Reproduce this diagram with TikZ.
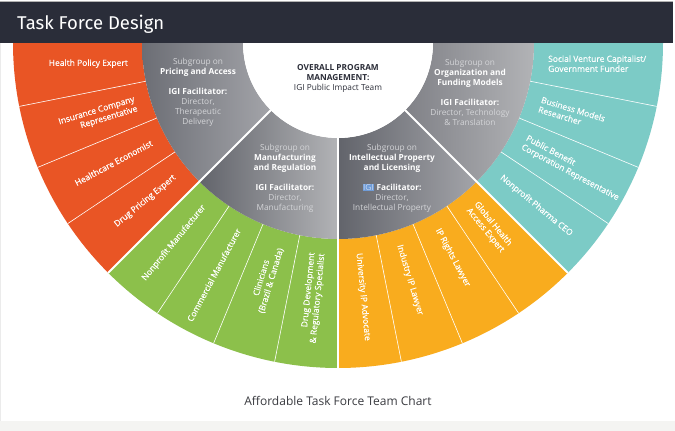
\documentclass[tikz,border=0pt]{standalone}
\usepackage{fontspec}
\setmainfont{Open Sans}
\newfontfamily\headfont{Fira Sans}
\newfontfamily\lblfont[FakeBold=0.35]{Open Sans}
\usetikzlibrary{calc}
\definecolor{cOrange}{HTML}{E95525}
\definecolor{cGreen}{HTML}{8CC04B}
\definecolor{cYellow}{HTML}{F9AC1E}
\definecolor{cTeal}{HTML}{7CCBC6}
\definecolor{cHead}{HTML}{2A2D39}
\definecolor{cDark}{HTML}{2B2D38}
\definecolor{cCap}{HTML}{3A3B40}
\definecolor{sgText}{HTML}{D4D5D8}
\definecolor{hlBlue}{HTML}{6F9CD8}
\definecolor{hlText}{HTML}{C9D9F0}
\definecolor{gA}{HTML}{6C6E75}
\definecolor{gB}{HTML}{A3A4A9}
\definecolor{gC}{HTML}{62646B}
\definecolor{gD}{HTML}{B2B3B6}
\definecolor{gE}{HTML}{808187}
\definecolor{cBand}{HTML}{F4F4F2}
\tikzset{
  annsec/.style n args={4}{insert path={($(C)+(#1:#4)$) arc[start angle=#1,end angle=#2,radius=#4] -- ($(C)+(#2:#3)$) arc[start angle=#2,end angle=#1,radius=#3] -- cycle}},
  lblL/.style={font=\lblfont\fontsize{8.5}{10}\selectfont, text=white, inner sep=0pt, align=right, anchor=east},
  lblR/.style={font=\lblfont\fontsize{8.5}{10}\selectfont, text=white, inner sep=0pt, align=left, anchor=west},
  sg/.style={font=\fontsize{8.3}{10}\selectfont, text=sgText, align=center, inner sep=0pt},
  divider/.style={white, line width=2pt},
  thin/.style={white, line width=0.6pt}
}
\newcommand\bw[1]{{\bfseries\color{white}#1}}
\begin{document}
\begin{tikzpicture}[x=1pt,y=1pt]
\useasboundingbox (0,0) rectangle (675,431);
\fill[white] (0,0) rectangle (675,431);
\fill[cBand] (0,0) rectangle (675,10);
\draw[black!8, line width=0.8pt] (0.8,10) -- (0.8,388);
\coordinate (C) at (338,388);
% colored ring
\fill[cOrange, annsec={180}{225}{196}{325}];
\fill[cGreen, annsec={225}{270}{196}{325}];
\fill[cYellow, annsec={270}{315}{196}{325}];
\fill[cTeal, annsec={315}{360}{196}{325}];
% gray ring
\shade[left color=gA, right color=gB, annsec={180}{225}{95}{196}];
\shade[left color=gC, right color=gD, annsec={225}{270}{95}{196}];
\shade[left color=gC, right color=gB, annsec={270}{315}{95}{196}];
\shade[left color=gE, right color=gD, annsec={315}{360}{95}{196}];
% inner circle
\fill[white] ($(C)+(180:95)$) arc[start angle=180,end angle=360,radius=95] -- cycle;
% dividers
\foreach \a in {225,270,315}
  \draw[divider] ($(C)+(\a:95)$) -- ($(C)+(\a:325)$);
\foreach \a in {191.25,202.5,213.75,236.25,247.5,258.75,281.25,292.5,303.75,326.25,337.5,348.75}
  \draw[thin] ($(C)+(\a:196)$) -- ($(C)+(\a:325)$);
% header
\fill[cHead] (0,388) rectangle (673,429.5);
\draw[black!30, line width=0.8pt] (0,429.6) -- (673,429.6);
\node[anchor=base west, font=\headfont\fontsize{18.5}{22}\selectfont, text=white, inner sep=0pt] (title) at (17,401) {Task Force Design};
% center
\node[font=\fontsize{8.3}{10}\selectfont, text=cDark, align=center, inner sep=0pt] (ctr) at (338,353)
  {\textbf{OVERALL PROGRAM}\\\textbf{MANAGEMENT:}\\IGI Public Impact Team};
% subgroups
\node[sg] (s1) at (198,339) {Subgroup on\\\bw{Pricing and Access}\\[10pt]\bw{IGI Facilitator:}\\Director,\\Therapeutic\\Delivery};
\node[sg] (s2) at (285,253) {Subgroup on\\\bw{Manufacturing}\\\bw{and Regulation}\\[10pt]\bw{IGI Facilitator:}\\Director,\\Manufacturing};
\node[sg] (s3) at (392,253) {Subgroup on\\\bw{Intellectual Property}\\\bw{and Licensing}\\[10pt]{\setlength\fboxsep{0.6pt}\colorbox{hlBlue}{\color{hlText}IGI}} \bw{Facilitator:}\\Director,\\Intellectual Property};
\node[sg] (s4) at (470,339) {Subgroup on\\\bw{Organization and}\\\bw{Funding Models}\\[10pt]\bw{IGI Facilitator:}\\Director, Technology\\\& Translation};
% orange labels
\node[lblL] (o1) at ($(C)+(185.625:211)$) {Health Policy Expert};
\node[lblL, rotate=16.875] (o2) at ($(C)+(196.875:211)$) {Insurance Company\\Representative};
\node[lblL, rotate=28.125] (o3) at ($(C)+(208.125:211)$) {Healthcare Economist};
\node[lblL, rotate=39.375] (o4) at ($(C)+(219.375:211)$) {Drug Pricing Expert};
% green labels
\node[lblL, rotate=50.625] (g1) at ($(C)+(230.625:211)$) {Nonprofit Manufacturer};
\node[lblL, rotate=61.875] (g2) at ($(C)+(241.875:211)$) {Commercial Manufacturer};
\node[lblL, rotate=73.125, align=center] (g3) at ($(C)+(253.125:213)$) {Clinicians\\(Brazil \& Canada)};
\node[lblL, rotate=84.375] (g4) at ($(C)+(264.375:211)$) {Drug Development\\\& Regulatory Specialist};
% yellow labels
\node[lblR, rotate=-84.375] (y1) at ($(C)+(275.625:211)$) {University IP Advocate};
\node[lblR, rotate=-73.125] (y2) at ($(C)+(286.875:211)$) {Industry IP Lawyer};
\node[lblR, rotate=-61.875] (y3) at ($(C)+(298.125:211)$) {IP Rights Lawyer};
\node[lblR, rotate=-50.625] (y4) at ($(C)+(309.375:211)$) {Global Health\\Access Expert};
% teal labels
\node[lblR, rotate=-39.375] (t1) at ($(C)+(320.625:211)$) {Nonprofit Pharma CEO};
\node[lblR, rotate=-28.125] (t2) at ($(C)+(331.875:211)$) {Public Benefit\\Corporation Representative};
\node[lblR, rotate=-16.875] (t3) at ($(C)+(343.125:211)$) {Business Models\\Researcher};
\node[lblR] (t4) at ($(C)+(354.375:211)$) {Social Venture Capitalist/\\Government Funder};
% caption
\node[font=\fontsize{12}{14}\selectfont, text=cCap] (cap) at (338,30) {Affordable Task Force Team Chart};
\end{tikzpicture}
\end{document}
